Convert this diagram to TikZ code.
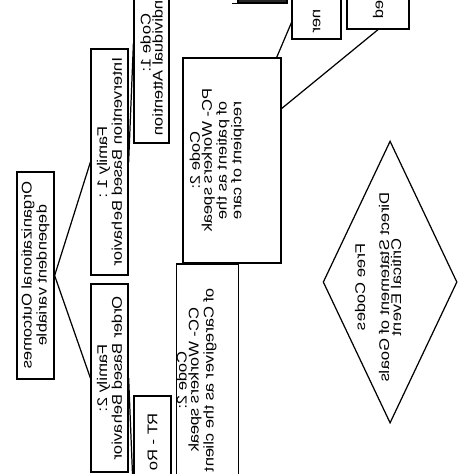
\documentclass[tikz,border=0pt]{standalone}
\usepackage{fontspec}
\setmainfont{Liberation Sans}[FakeStretch=1.18]
\usepackage{tikz}
\usetikzlibrary{positioning,shapes.geometric,calc}

\begin{document}
\begin{tikzpicture}
  [every node/.style={draw=black,rectangle,inner sep=0pt,align=center,font=\fontsize{8}{6.8}\selectfont},
   plain/.style={draw=none}]
  \useasboundingbox (0,0) rectangle (9.48,-9.48);
  \clip (0,0) rectangle (9.48,-9.48);

  \begin{scope}[x=0.02cm,y=0.02cm,cm={0,-1,-1,0,(0,0)},transform shape,line width=0.7pt]
  \node (org) at (275.5,-35.5) [minimum width=4.14cm,minimum height=0.74cm] {Organizational Outcomes\\dependent variable};
  \node (fam1) at (162,-109.5) [minimum width=4.52cm,minimum height=0.74cm] {Family 1 :\\Intervention Based Behavior};
  \node (fam2) at (378,-109.5) [minimum width=3.76cm,minimum height=0.74cm] {Family 2:\\Order Based Behavior};
  \node (code1) at (43,-151.5) [minimum width=4cm,minimum height=0.7cm] {Code 1:\\\hspace*{0.9cm}Individual Attention};
  \node (pc) at (160.5,-232) [minimum width=4.1cm,minimum height=1.96cm,text depth=0.66cm] {Code 2:\\PC- Workers speak\\of patient as the\\recipient of care};
  \node (cc) at (380,-207.5) [minimum width=4.64cm,minimum height=1.22cm,text depth=0.5cm] {Code 2:\\CC- Workers speak\\of Caregiver as the client};
  \node (rt) at (497,-152.5) [minimum width=4.04cm,minimum height=0.74cm,text width=3.36cm,align=left] {RT - Ro};
  \node (boxa) at (-61,-316.5) [minimum width=4cm,minimum height=0.98cm,text width=3.76cm,align=right] {ner};
  \node (boxb) at (-71,-378) [minimum width=4cm,minimum height=1.24cm,text width=3.6cm,align=right] {bed};
  \node (band) at (-0.5,-262.5) [fill=black!85,minimum width=0.14cm,minimum height=0.98cm] {};
  \node (goal) at (282,-390) [diamond,minimum width=5.64cm,minimum height=2.68cm] {};
  \node[plain] (goaltext) at ($(goal.center)+(5,12)$) {Free Codes\\[6.8pt]Direct Statement of Goals\\Critical Event};

  \draw (org.south) -- (fam1.north);
  \draw (org.south) -- (fam2.north);
  \draw (fam1.south) -- (code1.north);
  \draw (fam1.south) -- (fam1.south -| pc.north);
  \draw (fam2.south) -- (fam2.south -| cc.north);
  \draw (fam2.south) -- (rt.north);
  \draw ($(pc.south west)+(0,5)$) -- ($(boxa.north east)+(-17,0)$);
  \draw ($(pc.south)+(-52,0)$) -- (boxb.east);
  \draw (band.north east) -- (band.north east |- pc.west);
  \end{scope}
\end{tikzpicture}
\end{document}
